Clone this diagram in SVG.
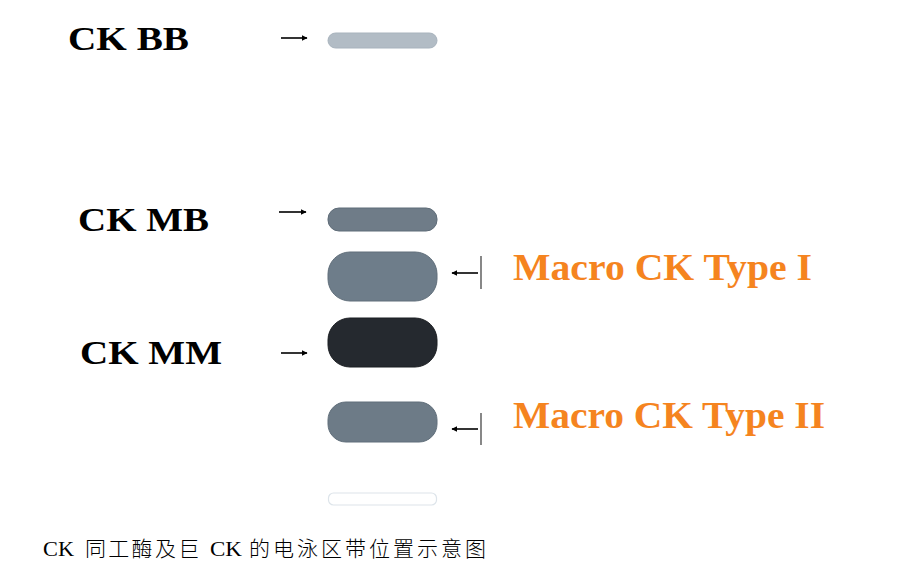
<svg xmlns="http://www.w3.org/2000/svg" width="907" height="562" viewBox="0 0 907 562">
<style>
.lbl{font-family:"Liberation Serif","Times New Roman",serif;font-weight:bold;fill:#000;}
.mac{font-family:"Liberation Serif","Times New Roman",serif;font-weight:bold;fill:#f5841f;}
.cap{font-family:"Liberation Serif","Noto Sans CJK SC",serif;fill:#000;font-size:21px;}
.cjk{font-family:"Noto Sans CJK SC",sans-serif;font-weight:300;}
.arr{stroke:#000;stroke-width:1.6;fill:none;}
.bar{stroke:#555;stroke-width:1.4;}
</style>
<defs>
<marker id="ah" viewBox="0 0 10 10" refX="9" refY="5" markerWidth="6" markerHeight="6" orient="auto" markerUnits="userSpaceOnUse">
<path d="M0,0 L10,5 L0,10 z" fill="#000"/>
</marker>
</defs>
<rect width="907" height="562" fill="#fff"/>
<g id="band-bb"><rect x="328" y="33" width="109" height="15" rx="7.5" fill="#b2bcc5" stroke="#a8b3bd" stroke-width="1"/></g>
<g id="band-mb"><rect x="328" y="208" width="109" height="23" rx="11" fill="#6f7c88" stroke="#5f6c78" stroke-width="1"/></g>
<g id="band-type1"><rect x="328" y="252" width="109" height="49" rx="22" fill="#6e7d8a" stroke="#606e7a" stroke-width="1"/></g>
<g id="band-mm"><rect x="328" y="318" width="109" height="49" rx="22" fill="#25292f" stroke="#1b1e22" stroke-width="1"/></g>
<g id="band-type2"><rect x="328" y="402" width="109" height="40" rx="18" fill="#6d7b87" stroke="#606e7a" stroke-width="1"/></g>
<g id="band-bottom"><rect x="328.5" y="493" width="108" height="12" rx="5" fill="#fff" stroke="#dde4ea" stroke-width="1.2"/></g>
<g id="label-bb"><text class="lbl" x="68" y="50" font-size="33" textLength="121" lengthAdjust="spacingAndGlyphs">CK BB</text></g>
<g id="label-mb"><text class="lbl" x="78" y="231" font-size="34" textLength="131" lengthAdjust="spacingAndGlyphs">CK MB</text></g>
<g id="label-mm"><text class="lbl" x="80" y="364" font-size="34" textLength="142" lengthAdjust="spacingAndGlyphs">CK MM</text></g>
<g id="label-type1"><text class="mac" x="513" y="280" font-size="38" textLength="299" lengthAdjust="spacingAndGlyphs">Macro CK Type I</text></g>
<g id="label-type2"><text class="mac" x="513" y="428" font-size="38" textLength="312" lengthAdjust="spacingAndGlyphs">Macro CK Type II</text></g>
<g id="connectors">
<line class="arr" x1="281" y1="38" x2="307" y2="38" marker-end="url(#ah)"/>
<line class="arr" x1="279" y1="212" x2="306" y2="212" marker-end="url(#ah)"/>
<line class="arr" x1="281" y1="353" x2="307" y2="353" marker-end="url(#ah)"/>
<line class="arr" x1="478" y1="273" x2="452" y2="273" marker-end="url(#ah)"/>
<line class="bar" x1="481" y1="256" x2="481" y2="289"/>
<line class="arr" x1="478" y1="429" x2="452" y2="429" marker-end="url(#ah)"/>
<line class="bar" x1="481" y1="413" x2="481" y2="445"/>
</g>
<g id="caption"><text class="cap" y="556"><tspan x="43" textLength="31" lengthAdjust="spacingAndGlyphs">CK</tspan><tspan class="cjk" x="85" letter-spacing="2.3">同工酶及巨</tspan><tspan x="210" textLength="32" lengthAdjust="spacingAndGlyphs">CK</tspan><tspan class="cjk" x="249" letter-spacing="3">的电泳区带位置示意图</tspan></text></g>
</svg>
